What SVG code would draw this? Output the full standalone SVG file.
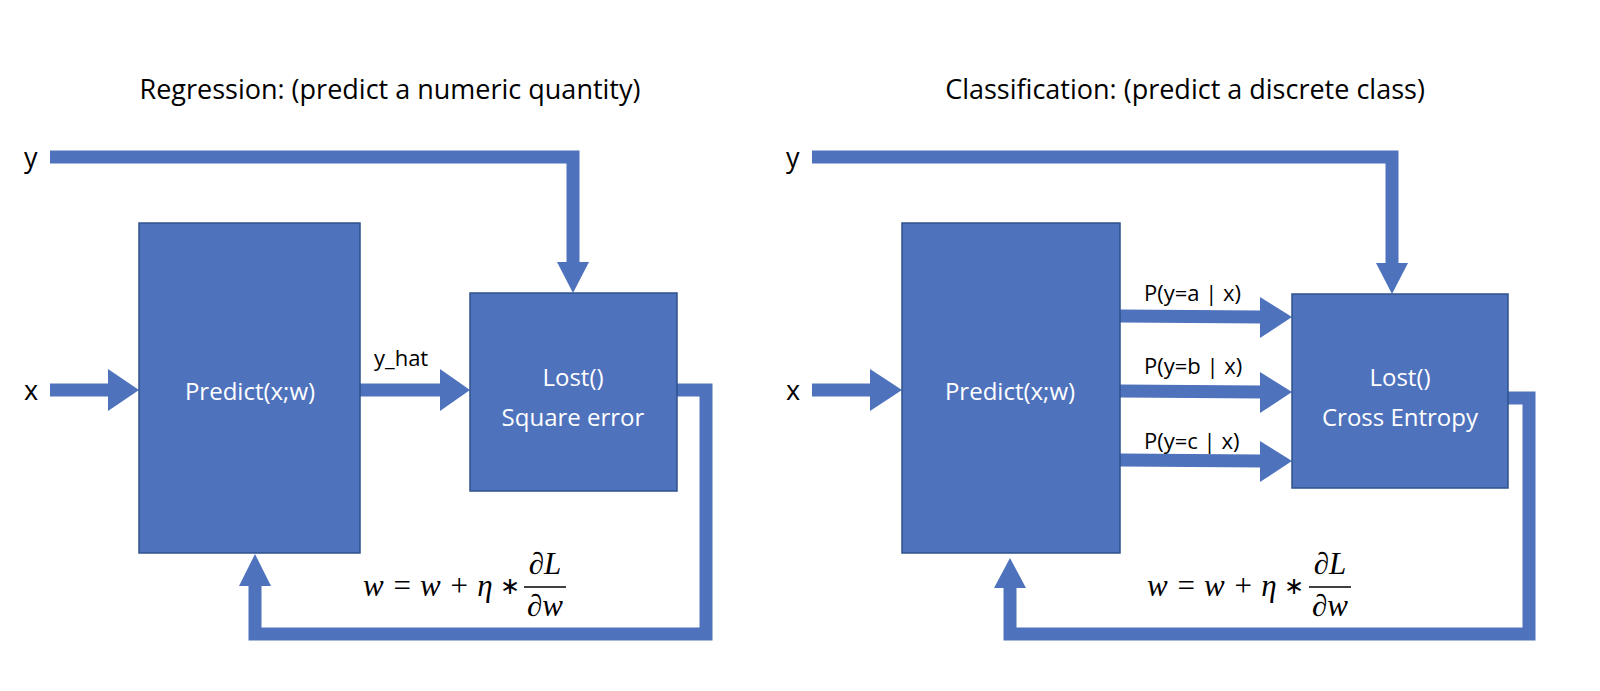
<svg xmlns="http://www.w3.org/2000/svg" width="1600" height="691" viewBox="0 0 1600 691">
<style>
.t{font-family:"Open Sans","Liberation Sans",sans-serif;font-size:27px;fill:#000}
.l{font-family:"Open Sans","Liberation Sans",sans-serif;font-size:22px;fill:#000}
.w{font-family:"Open Sans","Liberation Sans",sans-serif;font-size:24px;fill:#fff;text-anchor:middle}
.box{fill:#4f72bd;stroke:#2f528f;stroke-width:1.5}
.c{fill:none;stroke:#4f72bd;stroke-width:13}
.h{fill:#4f72bd}
.m{font-family:"Liberation Serif",serif;font-style:italic;font-size:31px;fill:#000}
.s{font-style:normal;font-size:24px}
</style>
<rect width="1600" height="691" fill="#fff"/>
<text class="t" x="390" y="99" text-anchor="middle">Regression: (predict a numeric quantity)</text>
<text class="t" x="1185" y="99" text-anchor="middle">Classification: (predict a discrete class)</text>
<text class="t" x="24" y="167">y</text>
<text class="t" x="24" y="400">x</text>
<text class="t" x="786" y="167">y</text>
<text class="t" x="786" y="400">x</text>
<g id="connectors">
<polyline class="c" points="50,157 573,157 573,264"/>
<polygon class="h" points="557,262 589,262 573,293"/>
<line class="c" x1="50" y1="390" x2="110" y2="390"/>
<polygon class="h" points="108,369 139,390 108,411"/>
<line class="c" x1="360" y1="390" x2="442" y2="390"/>
<polygon class="h" points="440,369 470,390 440,411"/>
<polyline class="c" points="677,390 706,390 706,634 255,634 255,584"/>
<polygon class="h" points="239,586 271,586 255,554"/>
<polyline class="c" points="812,157 1392,157 1392,265"/>
<polygon class="h" points="1376,263 1408,263 1392,294"/>
<line class="c" x1="812" y1="390" x2="872" y2="390"/>
<polygon class="h" points="870,369 902,390 870,411"/>
<line class="c" x1="1120" y1="316" x2="1262" y2="317"/>
<polygon class="h" points="1260,297 1292,317 1260,338"/>
<line class="c" x1="1120" y1="391" x2="1262" y2="392"/>
<polygon class="h" points="1260,372 1292,392 1260,413"/>
<line class="c" x1="1120" y1="460" x2="1262" y2="461"/>
<polygon class="h" points="1260,441 1292,461 1260,482"/>
<polyline class="c" points="1508,398 1529,398 1529,634 1010,634 1010,586"/>
<polygon class="h" points="994,588 1026,588 1010,558"/>
</g>
<text class="l" x="374" y="366">y_hat</text>
<text class="l" x="1144" y="301">P(y=a | x)</text>
<text class="l" x="1144" y="374">P(y=b | x)</text>
<text class="l" x="1144" y="449">P(y=c | x)</text>
<g id="predict1"><rect class="box" x="139" y="223" width="221" height="330"/><text class="w" x="250" y="400">Predict(x;w)</text></g>
<g id="loss1"><rect class="box" x="470" y="293" width="207" height="198"/><text class="w" x="573" y="386">Lost()</text><text class="w" x="573" y="426">Square error</text></g>
<g id="predict2"><rect class="box" x="902" y="223" width="218" height="330"/><text class="w" x="1010" y="400">Predict(x;w)</text></g>
<g id="loss2"><rect class="box" x="1292" y="294" width="216" height="194"/><text class="w" x="1400" y="386">Lost()</text><text class="w" x="1400" y="426">Cross Entropy</text></g>
<g id="formula1">
<text class="m" x="363" y="596">w = w + η <tspan class="s" dy="-2">∗</tspan></text>
<text class="m" x="545" y="574" text-anchor="middle">∂L</text>
<line x1="524" y1="587" x2="566" y2="587" stroke="#000" stroke-width="1.5"/>
<text class="m" x="545" y="616" text-anchor="middle">∂w</text>
</g>
<g id="formula2">
<text class="m" x="1147" y="596">w = w + η <tspan class="s" dy="-2">∗</tspan></text>
<text class="m" x="1330" y="574" text-anchor="middle">∂L</text>
<line x1="1309" y1="587" x2="1351" y2="587" stroke="#000" stroke-width="1.5"/>
<text class="m" x="1330" y="616" text-anchor="middle">∂w</text>
</g>
</svg>
